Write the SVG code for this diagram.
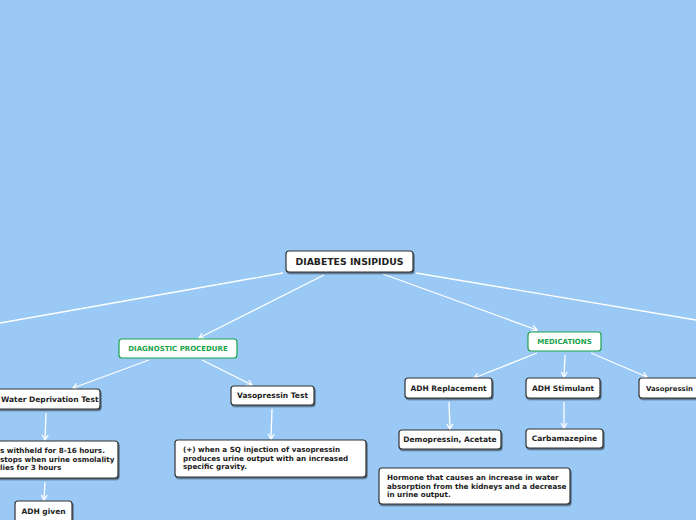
<svg xmlns="http://www.w3.org/2000/svg" width="696" height="520" viewBox="0 0 696 520">
<style>
.b{fill:#fff;stroke:#333;stroke-width:1.2;filter:url(#sh)}
.g{fill:#fff;stroke:#1aa34a;stroke-width:1.2}
text{font-family:"DejaVu Sans",Verdana,sans-serif;font-weight:bold;font-size:7.5px;fill:#222}
.c{text-anchor:middle}
.gt{fill:#1aa34a}
.p{font-size:7.2px}
#conn line{stroke:#fff;stroke-width:1.3;fill:none}
</style>
<defs>
<filter id="sh" x="-10%" y="-20%" width="130%" height="160%"><feDropShadow dx="1" dy="1.5" stdDeviation="0.6" flood-color="#000" flood-opacity="0.5"/></filter>
<marker id="a" markerWidth="8" markerHeight="8" refX="6" refY="4" orient="auto" markerUnits="userSpaceOnUse"><path d="M1,1 L6,4 L1,7" fill="none" stroke="#fff" stroke-width="1.3"/></marker>
</defs>
<rect width="696" height="520" fill="#9ac9f5"/>
<g id="conn">
<line x1="283" y1="273" x2="0" y2="323"/>
<line x1="324" y1="275" x2="199" y2="338" marker-end="url(#a)"/>
<line x1="383" y1="274" x2="537" y2="330" marker-end="url(#a)"/>
<line x1="416" y1="273" x2="696" y2="320"/>
<line x1="149" y1="360" x2="73" y2="388" marker-end="url(#a)"/>
<line x1="202" y1="360" x2="252" y2="385" marker-end="url(#a)"/>
<line x1="46" y1="413" x2="45" y2="440" marker-end="url(#a)"/>
<line x1="45" y1="482" x2="44" y2="500" marker-end="url(#a)"/>
<line x1="272" y1="409" x2="271" y2="439" marker-end="url(#a)"/>
<line x1="537" y1="353" x2="474" y2="378" marker-end="url(#a)"/>
<line x1="565" y1="355" x2="564" y2="377" marker-end="url(#a)"/>
<line x1="591" y1="353" x2="647" y2="377" marker-end="url(#a)"/>
<line x1="449" y1="402" x2="450" y2="429" marker-end="url(#a)"/>
<line x1="564" y1="402" x2="564" y2="428" marker-end="url(#a)"/>
</g>
<g id="root"><rect class="b" x="286" y="251" width="127" height="21" rx="3"/><text class="c" x="349.5" y="265" style="font-size:9.3px">DIABETES INSIPIDUS</text></g>
<g id="diag"><rect class="g" x="119" y="339" width="118" height="19" rx="3"/><text class="c gt" x="178" y="351" style="font-size:7px">DIAGNOSTIC PROCEDURE</text></g>
<g id="med"><rect class="g" x="528" y="332" width="73" height="19" rx="3"/><text class="c gt" x="564.5" y="344" style="font-size:7px">MEDICATIONS</text></g>
<g id="wdt"><rect class="b" x="-5" y="389" width="105" height="20" rx="3"/><text x="1" y="402">Water Deprivation Test</text></g>
<g id="vt"><rect class="b" x="231" y="386" width="83" height="19" rx="3"/><text class="c" x="272.5" y="398">Vasopressin Test</text></g>
<g id="wdtd"><rect class="b" x="-5" y="441" width="123" height="37" rx="3"/><text class="p" x="0" y="453">s withheld for 8-16 hours.</text><text class="p" x="0" y="461.5">stops when urine osmolality</text><text class="p" x="0" y="470">lies for 3 hours</text></g>
<g id="adhg"><rect class="b" x="15" y="501" width="57" height="25" rx="3"/><text class="c" x="43.5" y="514">ADH given</text></g>
<g id="vtd"><rect class="b" x="175" y="440" width="191" height="37" rx="3"/><text class="p" x="183" y="452">(+) when a SQ injection of vasopressin</text><text class="p" x="183" y="460.5">produces urine output with an increased</text><text class="p" x="183" y="469">specific gravity.</text></g>
<g id="adhr"><rect class="b" x="405" y="378" width="87" height="20" rx="3"/><text class="c" x="448.5" y="391">ADH Replacement</text></g>
<g id="adhs"><rect class="b" x="526" y="378" width="74" height="20" rx="3"/><text class="c" x="563" y="391">ADH Stimulant</text></g>
<g id="vaso"><rect class="b" x="639" y="378" width="62" height="20" rx="3"/><text x="646" y="391" style="font-size:6.9px">Vasopressin</text></g>
<g id="demo"><rect class="b" x="399" y="430" width="102" height="19" rx="3"/><text class="c" x="450" y="442">Demopressin, Acetate</text></g>
<g id="carb"><rect class="b" x="526" y="429" width="77" height="19" rx="3"/><text class="c" x="564.5" y="441">Carbamazepine</text></g>
<g id="horm"><rect class="b" x="379" y="468" width="191" height="36" rx="3"/><text class="p" x="387" y="480">Hormone that causes an increase in water</text><text class="p" x="387" y="488.5">absorption from the kidneys and a decrease</text><text class="p" x="387" y="497">in urine output.</text></g>
</svg>
